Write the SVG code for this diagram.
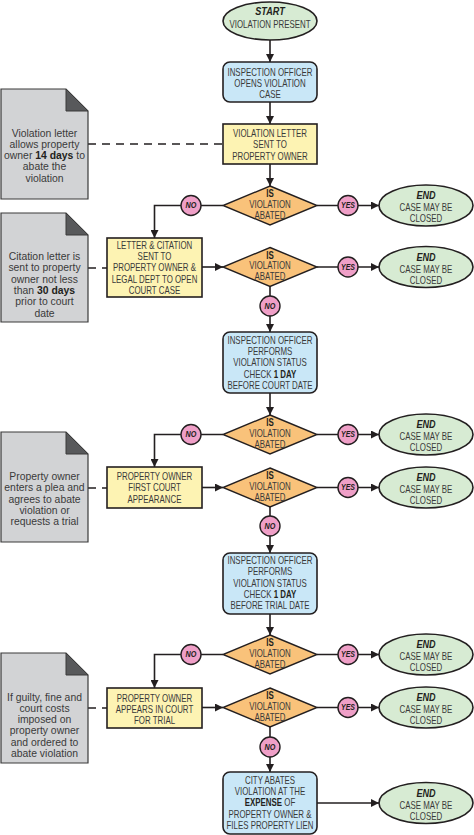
<svg xmlns="http://www.w3.org/2000/svg" width="474" height="835" viewBox="0 0 474 835">
<style>
.bg{fill:#ffffff}
.ell{fill:#d7ebd3;stroke:#231f20;stroke-width:1.6}
.blue{fill:#c9e7f7;stroke:#231f20;stroke-width:1.6}
.yel{fill:#fdf3b3;stroke:#231f20;stroke-width:1.6}
.dia{fill:#f9c27a;stroke:#231f20;stroke-width:1.4}
.pink{fill:#ef9fc7;stroke:#231f20;stroke-width:1.4}
.note{fill:#d2d3d5;stroke:#3a3a3a;stroke-width:1.2}
.flap{fill:#58595b;stroke:#3a3a3a;stroke-width:1}
.ln{fill:none;stroke:#231f20;stroke-width:1.6}
.arr{fill:none;stroke:#231f20;stroke-width:1.6;marker-end:url(#ah)}
.dash{fill:none;stroke:#231f20;stroke-width:1.6;stroke-dasharray:8 6}
text{font-family:"Liberation Sans",Arial,sans-serif;text-anchor:middle}
.bt{font-size:10px;fill:#3a3a3a}
.b{font-weight:bold;fill:#231f20}
.hd{font-size:11.5px;font-weight:bold;font-style:italic;fill:#231f20}
.ct{font-size:8.5px;font-weight:bold;font-style:italic;fill:#231f20}
.nt{font-size:10.4px;fill:#3a3a3a}
</style>
<defs>
<marker id="ah" markerUnits="userSpaceOnUse" markerWidth="8" markerHeight="8" refX="8" refY="4" orient="auto">
<path d="M0,0 L8,4 L0,8 z" fill="#231f20"/>
</marker>
</defs>
<rect class="bg" x="0" y="0" width="474" height="835"/>

<g id="connectors">
<line class="arr" x1="270" y1="40" x2="270" y2="62"/>
<line class="arr" x1="270" y1="102" x2="270" y2="124"/>
<line class="arr" x1="270" y1="164" x2="270" y2="186"/>
<path class="arr" d="M223,205.5 H154.5 V238"/>
<line class="arr" x1="317" y1="205.5" x2="379" y2="205.5"/>
<line class="arr" x1="202" y1="267" x2="223" y2="267"/>
<line class="arr" x1="317" y1="267" x2="379" y2="267"/>
<line class="arr" x1="270" y1="286.5" x2="270" y2="332"/>
<line class="arr" x1="270" y1="393" x2="270" y2="415"/>
<path class="arr" d="M223,434.5 H154.5 V467"/>
<line class="arr" x1="317" y1="434.5" x2="379" y2="434.5"/>
<line class="arr" x1="202" y1="487.5" x2="223" y2="487.5"/>
<line class="arr" x1="317" y1="487.5" x2="379" y2="487.5"/>
<line class="arr" x1="270" y1="507" x2="270" y2="553"/>
<line class="arr" x1="270" y1="614" x2="270" y2="635"/>
<path class="arr" d="M223,654.5 H154.5 V688"/>
<line class="arr" x1="317" y1="654.5" x2="379" y2="654.5"/>
<line class="arr" x1="202" y1="707.5" x2="223" y2="707.5"/>
<line class="arr" x1="317" y1="707.5" x2="379" y2="707.5"/>
<line class="arr" x1="270" y1="727" x2="270" y2="772"/>
<line class="arr" x1="317" y1="803" x2="379" y2="803"/>
<line class="dash" x1="88" y1="144" x2="223" y2="144"/>
<line class="dash" x1="88" y1="268" x2="107" y2="268"/>
<line class="dash" x1="88" y1="488" x2="107" y2="488"/>
<line class="dash" x1="88" y1="708" x2="107" y2="708"/>
</g>

<g id="start">
<ellipse class="ell" cx="270" cy="21" rx="47" ry="19"/>
<g transform="translate(270 0) scale(0.79 1)">
<text class="hd" y="15">START</text>
<text class="bt" y="28">VIOLATION PRESENT</text>
</g>
</g>

<g id="open-case">
<rect class="blue" x="223" y="62" width="94" height="40" rx="7"/>
<g transform="translate(270 0) scale(0.79 1)">
<text class="bt" y="75.7">INSPECTION OFFICER</text>
<text class="bt" y="87">OPENS VIOLATION</text>
<text class="bt" y="98.3">CASE</text>
</g>
</g>

<g id="violation-letter">
<rect class="yel" x="223" y="124" width="94" height="40"/>
<g transform="translate(270 0) scale(0.79 1)">
<text class="bt" y="137">VIOLATION LETTER</text>
<text class="bt" y="148.3">SENT TO</text>
<text class="bt" y="159.6">PROPERTY OWNER</text>
</g>
</g>

<g id="note1">
<path class="note" d="M1,89 H66 L88,111 V199 H1 Z"/>
<path class="flap" d="M66,89 L88,111 H66 Z"/>
<text class="nt" x="44.5" y="136.5">Violation letter</text>
<text class="nt" x="44.5" y="147.8">allows property</text>
<text class="nt" x="44.5" y="159.1">owner <tspan font-weight="bold" fill="#231f20">14 days</tspan> to</text>
<text class="nt" x="44.5" y="170.4">abate the</text>
<text class="nt" x="44.5" y="181.7">violation</text>
</g>

<g id="decision1">
<polygon class="dia" points="270,186 317,205.5 270,225 223,205.5"/>
<g transform="translate(270 0) scale(0.79 1)">
<text class="bt b" y="197.5">IS</text>
<text class="bt" y="208">VIOLATION</text>
<text class="bt" y="218.8">ABATED</text>
</g>
</g>
<g id="no1"><circle class="pink" cx="191" cy="205.5" r="10"/><g transform="translate(191 0) scale(0.85 1)"><text class="ct" y="208.5">NO</text></g></g>
<g id="yes1"><circle class="pink" cx="348" cy="205.5" r="10"/><g transform="translate(348 0) scale(0.82 1)"><text class="ct" y="208.5">YES</text></g></g>
<g id="end1">
<ellipse class="ell" cx="426" cy="205.5" rx="47" ry="20.5"/>
<g transform="translate(426 0) scale(0.79 1)">
<text class="hd" y="199.5">END</text>
<text class="bt" y="211.2">CASE MAY BE</text>
<text class="bt" y="222.2">CLOSED</text>
</g>
</g>

<g id="citation">
<rect class="yel" x="107" y="238" width="95" height="59"/>
<g transform="translate(154.5 0) scale(0.79 1)">
<text class="bt" y="248.8">LETTER &amp; CITATION</text>
<text class="bt" y="260.1">SENT TO</text>
<text class="bt" y="271.4">PROPERTY OWNER &amp;</text>
<text class="bt" y="282.7">LEGAL DEPT TO OPEN</text>
<text class="bt" y="294">COURT CASE</text>
</g>
</g>

<g id="note2">
<path class="note" d="M1,213 H66 L88,235 V322 H1 Z"/>
<path class="flap" d="M66,213 L88,235 H66 Z"/>
<text class="nt" x="44.5" y="259.7">Citation letter is</text>
<text class="nt" x="44.5" y="271.1">sent to property</text>
<text class="nt" x="44.5" y="282.5">owner not less</text>
<text class="nt" x="44.5" y="293.9">than <tspan font-weight="bold" fill="#231f20">30 days</tspan></text>
<text class="nt" x="44.5" y="305.3">prior to court</text>
<text class="nt" x="44.5" y="316.7">date</text>
</g>

<g id="decision2">
<polygon class="dia" points="270,247.5 317,267 270,286.5 223,267"/>
<g transform="translate(270 0) scale(0.79 1)">
<text class="bt b" y="259">IS</text>
<text class="bt" y="269.5">VIOLATION</text>
<text class="bt" y="280.3">ABATED</text>
</g>
</g>
<g id="yes2"><circle class="pink" cx="348" cy="267" r="10"/><g transform="translate(348 0) scale(0.82 1)"><text class="ct" y="270">YES</text></g></g>
<g id="end2">
<ellipse class="ell" cx="426" cy="267" rx="47" ry="20.5"/>
<g transform="translate(426 0) scale(0.79 1)">
<text class="hd" y="261">END</text>
<text class="bt" y="272.7">CASE MAY BE</text>
<text class="bt" y="283.7">CLOSED</text>
</g>
</g>
<g id="no2"><circle class="pink" cx="270" cy="306" r="10"/><g transform="translate(270 0) scale(0.85 1)"><text class="ct" y="309">NO</text></g></g>

<g id="check-court">
<rect class="blue" x="223" y="332" width="94" height="61" rx="7"/>
<g transform="translate(270 0) scale(0.79 1)">
<text class="bt" y="343.7">INSPECTION OFFICER</text>
<text class="bt" y="355">PERFORMS</text>
<text class="bt" y="366.3">VIOLATION STATUS</text>
<text class="bt" y="377.6">CHECK <tspan class="b">1 DAY</tspan></text>
<text class="bt" y="388.9">BEFORE COURT DATE</text>
</g>
</g>

<g id="decision3">
<polygon class="dia" points="270,415 317,434.5 270,454 223,434.5"/>
<g transform="translate(270 0) scale(0.79 1)">
<text class="bt b" y="426.5">IS</text>
<text class="bt" y="437">VIOLATION</text>
<text class="bt" y="447.8">ABATED</text>
</g>
</g>
<g id="no3"><circle class="pink" cx="191" cy="434.5" r="10"/><g transform="translate(191 0) scale(0.85 1)"><text class="ct" y="437.5">NO</text></g></g>
<g id="yes3"><circle class="pink" cx="348" cy="434.5" r="10"/><g transform="translate(348 0) scale(0.82 1)"><text class="ct" y="437.5">YES</text></g></g>
<g id="end3">
<ellipse class="ell" cx="426" cy="434.5" rx="47" ry="20.5"/>
<g transform="translate(426 0) scale(0.79 1)">
<text class="hd" y="428.5">END</text>
<text class="bt" y="440.2">CASE MAY BE</text>
<text class="bt" y="451.2">CLOSED</text>
</g>
</g>

<g id="first-court">
<rect class="yel" x="107" y="467" width="95" height="41"/>
<g transform="translate(154.5 0) scale(0.79 1)">
<text class="bt" y="480">PROPERTY OWNER</text>
<text class="bt" y="491.3">FIRST COURT</text>
<text class="bt" y="502.6">APPEARANCE</text>
</g>
</g>

<g id="note3">
<path class="note" d="M1,432 H66 L88,454 V542 H1 Z"/>
<path class="flap" d="M66,432 L88,454 H66 Z"/>
<text class="nt" x="44.5" y="479.8">Property owner</text>
<text class="nt" x="44.5" y="491.2">enters a plea and</text>
<text class="nt" x="44.5" y="502.6">agrees to abate</text>
<text class="nt" x="44.5" y="514">violation or</text>
<text class="nt" x="44.5" y="525.4">requests a trial</text>
</g>

<g id="decision4">
<polygon class="dia" points="270,468 317,487.5 270,507 223,487.5"/>
<g transform="translate(270 0) scale(0.79 1)">
<text class="bt b" y="479.5">IS</text>
<text class="bt" y="490">VIOLATION</text>
<text class="bt" y="500.8">ABATED</text>
</g>
</g>
<g id="yes4"><circle class="pink" cx="348" cy="487.5" r="10"/><g transform="translate(348 0) scale(0.82 1)"><text class="ct" y="490.5">YES</text></g></g>
<g id="end4">
<ellipse class="ell" cx="426" cy="487.5" rx="47" ry="20.5"/>
<g transform="translate(426 0) scale(0.79 1)">
<text class="hd" y="481.5">END</text>
<text class="bt" y="493.2">CASE MAY BE</text>
<text class="bt" y="504.2">CLOSED</text>
</g>
</g>
<g id="no4"><circle class="pink" cx="270" cy="526" r="10"/><g transform="translate(270 0) scale(0.85 1)"><text class="ct" y="529">NO</text></g></g>

<g id="check-trial">
<rect class="blue" x="223" y="553" width="94" height="61" rx="7"/>
<g transform="translate(270 0) scale(0.79 1)">
<text class="bt" y="564">INSPECTION OFFICER</text>
<text class="bt" y="575.3">PERFORMS</text>
<text class="bt" y="586.6">VIOLATION STATUS</text>
<text class="bt" y="597.9">CHECK <tspan class="b">1 DAY</tspan></text>
<text class="bt" y="609.2">BEFORE TRIAL DATE</text>
</g>
</g>

<g id="decision5">
<polygon class="dia" points="270,635 317,654.5 270,674 223,654.5"/>
<g transform="translate(270 0) scale(0.79 1)">
<text class="bt b" y="646.5">IS</text>
<text class="bt" y="657">VIOLATION</text>
<text class="bt" y="667.8">ABATED</text>
</g>
</g>
<g id="no5"><circle class="pink" cx="191" cy="654.5" r="10"/><g transform="translate(191 0) scale(0.85 1)"><text class="ct" y="657.5">NO</text></g></g>
<g id="yes5"><circle class="pink" cx="348" cy="654.5" r="10"/><g transform="translate(348 0) scale(0.82 1)"><text class="ct" y="657.5">YES</text></g></g>
<g id="end5">
<ellipse class="ell" cx="426" cy="654.5" rx="47" ry="20.5"/>
<g transform="translate(426 0) scale(0.79 1)">
<text class="hd" y="648.5">END</text>
<text class="bt" y="660.2">CASE MAY BE</text>
<text class="bt" y="671.2">CLOSED</text>
</g>
</g>

<g id="trial">
<rect class="yel" x="107" y="688" width="95" height="40"/>
<g transform="translate(154.5 0) scale(0.79 1)">
<text class="bt" y="701.7">PROPERTY OWNER</text>
<text class="bt" y="713">APPEARS IN COURT</text>
<text class="bt" y="724.3">FOR  TRIAL</text>
</g>
</g>

<g id="note4">
<path class="note" d="M1,653 H66 L88,675 V763 H1 Z"/>
<path class="flap" d="M66,653 L88,675 H66 Z"/>
<text class="nt" x="44.5" y="700.5">If guilty, fine and</text>
<text class="nt" x="44.5" y="711.8">court costs</text>
<text class="nt" x="44.5" y="723.1">imposed on</text>
<text class="nt" x="44.5" y="734.4">property owner</text>
<text class="nt" x="44.5" y="745.7">and ordered to</text>
<text class="nt" x="44.5" y="757">abate violation</text>
</g>

<g id="decision6">
<polygon class="dia" points="270,688 317,707.5 270,727 223,707.5"/>
<g transform="translate(270 0) scale(0.79 1)">
<text class="bt b" y="699.5">IS</text>
<text class="bt" y="710">VIOLATION</text>
<text class="bt" y="720.8">ABATED</text>
</g>
</g>
<g id="yes6"><circle class="pink" cx="348" cy="707.5" r="10"/><g transform="translate(348 0) scale(0.82 1)"><text class="ct" y="710.5">YES</text></g></g>
<g id="end6">
<ellipse class="ell" cx="426" cy="707.5" rx="47" ry="20.5"/>
<g transform="translate(426 0) scale(0.79 1)">
<text class="hd" y="701.5">END</text>
<text class="bt" y="713.2">CASE MAY BE</text>
<text class="bt" y="724.2">CLOSED</text>
</g>
</g>
<g id="no6"><circle class="pink" cx="270" cy="747" r="10"/><g transform="translate(270 0) scale(0.85 1)"><text class="ct" y="750">NO</text></g></g>

<g id="city-abates">
<rect class="blue" x="223" y="772" width="94" height="62" rx="7"/>
<g transform="translate(270 0) scale(0.79 1)">
<text class="bt" y="783.7">CITY ABATES</text>
<text class="bt" y="795">VIOLATION AT THE</text>
<text class="bt" y="806.3"><tspan class="b">EXPENSE</tspan> OF</text>
<text class="bt" y="817.6">PROPERTY OWNER &amp;</text>
<text class="bt" y="828.9">FILES PROPERTY LIEN</text>
</g>
</g>

<g id="end7">
<ellipse class="ell" cx="426" cy="803" rx="47" ry="20.5"/>
<g transform="translate(426 0) scale(0.79 1)">
<text class="hd" y="797">END</text>
<text class="bt" y="808.7">CASE MAY BE</text>
<text class="bt" y="819.7">CLOSED</text>
</g>
</g>
</svg>
